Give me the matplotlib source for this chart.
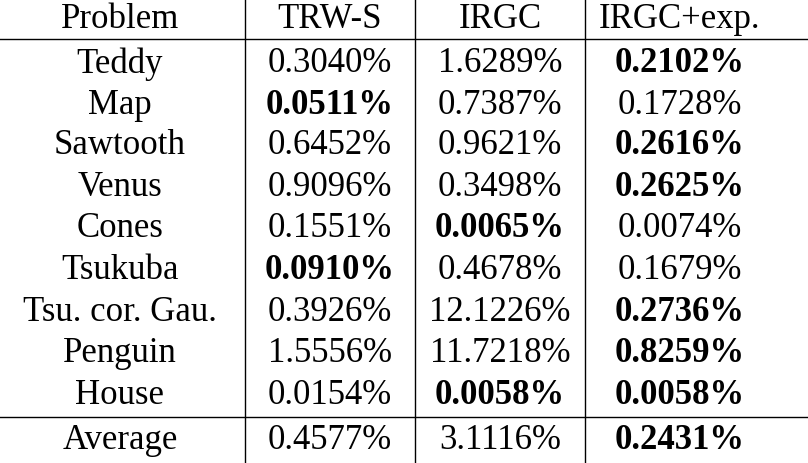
import matplotlib
matplotlib.use('Agg')
from matplotlib import pyplot as plt

problems = ['Teddy', 'Map', 'Sawtooth', 'Venus', 'Cones', 'Tsukuba',
            'Tsu. cor. Gau.', 'Penguin', 'House', 'Average']
trws = ['0.3040%', '0.0511%', '0.6452%', '0.9096%', '0.1551%', '0.0910%',
        '0.3926%', '1.5556%', '0.0154%', '0.4577%']
irgc = ['1.6289%', '0.7387%', '0.9621%', '0.3498%', '0.0065%', '0.4678%',
        '12.1226%', '11.7218%', '0.0058%', '3.1116%']
irgc_exp = ['0.2102%', '0.1728%', '0.2616%', '0.2625%', '0.0074%', '0.1679%',
            '0.2736%', '0.8259%', '0.0058%', '0.2431%']
# bold cells: (row, column)
bold = {(0, 3), (1, 1), (2, 3), (3, 3), (4, 2), (5, 1), (6, 3), (7, 3),
        (8, 2), (8, 3), (9, 3)}
headers = ['Problem', 'TRW-S', 'IRGC', 'IRGC+exp.']

plt.rcParams['font.family'] = ['Liberation Serif', 'DejaVu Serif']
fig = plt.figure(figsize=(8.08, 4.64), dpi=100)
ax = fig.add_axes([0, 0, 1, 1])
ax.set_xlim(0, 808)
ax.set_ylim(464, 0)
ax.axis('off')

col_x = [120, 330, 500, 680]
row_y = [64, 105, 146, 188, 229, 271, 313, 354, 396, 441]
fs = 25

for j, h in enumerate(headers):
    ax.text(col_x[j], 19, h, ha='center', va='center', fontsize=fs)

columns = [problems, trws, irgc, irgc_exp]
for i in range(len(problems)):
    for j, col in enumerate(columns):
        w = 'bold' if (i, j) in bold else 'normal'
        ax.text(col_x[j], row_y[i], col[i], ha='center', va='center',
                fontsize=fs, fontweight=w)

ax.plot([0, 808], [40, 40], color='black', lw=1)
ax.plot([0, 808], [418, 418], color='black', lw=1)
for x in [245, 415, 585]:
    ax.plot([x, x], [0, 464], color='black', lw=1)

fig.savefig('out.png', dpi=100)
